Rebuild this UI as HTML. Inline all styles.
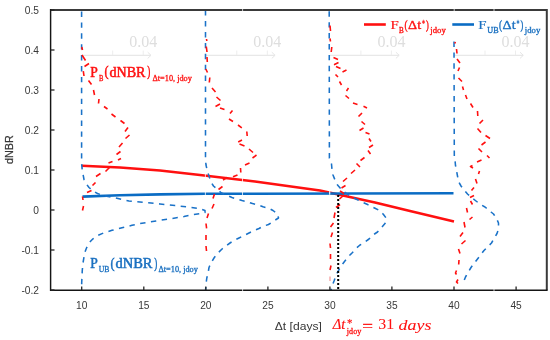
<!DOCTYPE html>
<html><head><meta charset="utf-8"><title>chart</title>
<style>
html,body{margin:0;padding:0;background:#fff;}
body{width:550px;height:340px;overflow:hidden;}
svg{display:block;}
.ax{font-family:"Liberation Sans",Arial,sans-serif;fill:#383838;}
.sf{font-family:"Liberation Serif","Times New Roman",serif;}
</style></head><body>
<svg width="550" height="340" viewBox="0 0 550 340">
<rect width="550" height="340" fill="#fff"/>

<g fill="none"><line x1="81.7" y1="55.3" x2="150.7" y2="55.3" stroke="#e8e8e8" stroke-width="1.3"/><line x1="112.7" y1="50.5" x2="112.7" y2="55" stroke="#ededed" stroke-width="1"/><line x1="143.2" y1="50.5" x2="143.2" y2="55" stroke="#ededed" stroke-width="1"/><polyline points="147.7,52.2 151.0,55.3 147.7,58.4" stroke="#e6e6e6" stroke-width="1"/></g>
<text x="143.2" y="47" text-anchor="middle" class="sf" font-size="16" fill="#dedede">0.04</text>
<g fill="none"><line x1="205.8" y1="55.3" x2="274.8" y2="55.3" stroke="#e8e8e8" stroke-width="1.3"/><line x1="236.8" y1="50.5" x2="236.8" y2="55" stroke="#ededed" stroke-width="1"/><line x1="267.3" y1="50.5" x2="267.3" y2="55" stroke="#ededed" stroke-width="1"/><polyline points="271.8,52.2 275.1,55.3 271.8,58.4" stroke="#e6e6e6" stroke-width="1"/></g>
<text x="267.3" y="47" text-anchor="middle" class="sf" font-size="16" fill="#dedede">0.04</text>
<g fill="none"><line x1="329.9" y1="55.3" x2="398.9" y2="55.3" stroke="#e8e8e8" stroke-width="1.3"/><line x1="360.9" y1="50.5" x2="360.9" y2="55" stroke="#ededed" stroke-width="1"/><line x1="391.4" y1="50.5" x2="391.4" y2="55" stroke="#ededed" stroke-width="1"/><polyline points="395.9,52.2 399.2,55.3 395.9,58.4" stroke="#e6e6e6" stroke-width="1"/></g>
<text x="391.4" y="47" text-anchor="middle" class="sf" font-size="16" fill="#dedede">0.04</text>
<g fill="none"><line x1="454.0" y1="55.3" x2="523.0" y2="55.3" stroke="#e8e8e8" stroke-width="1.3"/><line x1="485.0" y1="50.5" x2="485.0" y2="55" stroke="#ededed" stroke-width="1"/><line x1="515.5" y1="50.5" x2="515.5" y2="55" stroke="#ededed" stroke-width="1"/><polyline points="520.0,52.2 523.3,55.3 520.0,58.4" stroke="#e6e6e6" stroke-width="1"/></g>
<text x="515.5" y="47" text-anchor="middle" class="sf" font-size="16" fill="#dedede">0.04</text>
<polyline points="82,165.8 120,167.5 160,170.4 200,175 255,181.5 320,190.5 375,202.5 410,211 454,221.5" fill="none" stroke="#ff1010" stroke-width="2.5" stroke-linejoin="round" stroke-linecap="butt"/>
<polyline points="82.5,196.6 120,195.3 160,194.4 205,193.8 453.5,193.3" fill="none" stroke="#0a6cc4" stroke-width="2.6" stroke-linejoin="round" stroke-linecap="butt"/>
<line x1="205.4" y1="173.5" x2="205.4" y2="177.5" stroke="#fff" stroke-width="0.9" opacity="0.85"/>
<line x1="205.4" y1="191.5" x2="205.4" y2="196" stroke="#fff" stroke-width="0.9" opacity="0.85"/>
<line x1="242.5" y1="178.0" x2="242.5" y2="182.0" stroke="#fff" stroke-width="0.9" opacity="0.85"/>
<line x1="242.5" y1="191.5" x2="242.5" y2="196" stroke="#fff" stroke-width="0.9" opacity="0.85"/>
<line x1="329.7" y1="190.0" x2="329.7" y2="194.0" stroke="#fff" stroke-width="0.9" opacity="0.85"/>
<line x1="329.7" y1="191.5" x2="329.7" y2="196" stroke="#fff" stroke-width="0.9" opacity="0.85"/>
<polyline points="81.6,10 81.6,163 82,168 83,174 84,179.5 86,183.5 89,187.5 93,191 97.5,193.5 103,195.5 108,196.6 113,197.5 118,198.5 124,200 129,201 140,202 151,203 160,204 175,205.6 189.4,207.2 199.5,208.5 205,210.5 205,212.5 200.5,213.5 191,215 184,216.6 170,218.8 156,221 140,223.5 132,225.3 122,227.8 112,230.3 104,232.8 98,235.3 93,238.8 89,243 86.5,248 85,252 84,257 83,263 82.3,270 82,276 81.7,283 81.6,290" fill="none" stroke="#1a72c8" stroke-width="1.55" stroke-dasharray="5.4 5.5" stroke-dashoffset="9.4" stroke-linejoin="round"/>
<polyline points="205.5,10 205.5,160 206,165 207.5,171.5 209,176 211,182 213.5,186 218,190 221.5,193 227,195.2 232,197.5 237,199 242,200.5 248,202 252.5,203.6 258.5,205 263,206.8 269,208.3 273,210.5 277.5,214 278.5,218 273,221.5 268.5,224.5 262.5,226.5 259,228.5 251,232 244,235.5 239,238 234,240.5 230,243 224.5,247 221.5,249.5 217,254 214,258 211,263 209,267.5 208,273.5 206.8,278 206,284 205.6,290" fill="none" stroke="#1a72c8" stroke-width="1.55" stroke-dasharray="5.4 5.5" stroke-dashoffset="10.7" stroke-linejoin="round"/>
<polyline points="329.2,10 329.4,158 331.5,164 332,169.5 333,175 335,180 337.5,185 341,189 345,192.5 350,196 354,198 358,200 362,202 367,204.2 370,206 374.5,208 379.5,210.5 383.5,214.5 386.5,218.5 385,223.5 381.5,227.5 377.5,232 374.5,234 369,239 365.5,241.5 360,245 356.5,248 352.5,252.5 348.5,256.5 344.5,261.5 341.5,265.5 338.5,270.5 336.3,274.5 334.3,280.3 332.5,285 331,290" fill="none" stroke="#1a72c8" stroke-width="1.55" stroke-dasharray="5.4 5.5" stroke-dashoffset="9.6" stroke-linejoin="round"/>
<polyline points="454,41.5 454.3,156 455,160 455.5,165.5 456.5,170.5 457.5,176 458.5,181.5 461,186 464.5,190.5 467.5,194 472,198 476,201 480.5,204.5 485,207 489,210 491,212 493.5,214 496.5,218.5 498.5,223 498.5,229 497,233.5 494,238.5 491.5,243 487.5,247 484,250.5 480.5,255 477.5,259 474,263.5 471,267.5 468,272.5 465.5,277 463.5,282" fill="none" stroke="#1a72c8" stroke-width="1.55" stroke-dasharray="5.4 5.5" stroke-dashoffset="0" stroke-linejoin="round"/>
<path d="M81.8,47 L82.5,50 M82,55 L85.5,60.5 M89,63.5 L84.5,66.5 M83.3,71.2 L84,76 M88.5,80.5 L91.5,84.5 M93.5,90 L94.5,95 M99,99 L98.5,103.5 M104,106.5 L107.5,109 M111.5,114 L115.5,117 M120.5,120.5 L124.5,123.5 M128,127.5 L125,131.5 M129.5,135 L125.5,138.5 M122.5,143 L119,147 M120.5,151.5 L116.5,154.5 M121,158.5 L118,160 M112.5,161.5 L108.5,163 M109.5,167.5 L105.5,171.5 M100.5,173.5 L96,176.5 M95.5,182.5 L92.5,185.5 M91.5,190.5 L87,192.5 M82.5,196.5 L83,200 M83.5,206 L82.5,210.5 M206.5,39 L206.8,41 M206.3,46.5 L207,52 M207,57 L207.3,62 M205.8,69 L207.5,72.5 M209.8,77.5 L209.3,82.5 M212,88 L215.5,92 M216.5,97 L220.5,100.5 M220,104 L215.5,106.5 M220,108 L224.5,109.5 M232.5,110.5 L230,113.5 M229,119 L233,121.5 M238,125 L241.8,127.8 M246.8,131.5 L247.2,136 M242,140 L238.2,142 M239.5,144 L244.5,146 M249,149 L253,152.5 M256.5,155 L252.5,158 M249.5,163 L245,165 M240.5,168 L240.8,172.5 M237.5,175 L233,176.8 M227,177.5 L223,180 M222.5,186.5 L218.5,189.5 M214.5,194 L213,198.5 M214,204 L212,208.5 M208.5,213.5 L207,218 M206,223.5 L206.6,228.3 M206,235 L206,240 M206,246 L206.5,251 M330,25.5 L330.5,31 M330,38.5 L330.5,41.5 M331.8,47 L331.2,52 M333.5,57.5 L338,59.5 M338.5,62.5 L334,64.8 M336,66.5 L340.5,68.5 M346.5,70 L342.5,72 M335.5,74.5 L338,77 M339.5,81.5 L341.5,85 M348.5,88 L346.5,91 M345.5,95.5 L349,98.5 M353,103 L357.5,104.5 M363.5,106.3 L367,108 M362,113 L358.5,116.5 M361.5,121.5 L365,124.5 M363.5,128 L359.5,130.5 M365.5,132.5 L369.5,134 M369,138.5 L371,141.5 M373,145 L369,147.5 M368,150.5 L370.5,154 M364.5,157.5 L360.5,160.5 M356.5,163.5 L360,167 M355,170 L351,173.5 M347,178 L343,181.5 M345.5,185.5 L341.5,188 M340,191 L344,193.5 M344,195 L339.5,199 M340,204.5 L336,207.5 M335,212.5 L334,218 M333.5,223 L330.5,227 M332.5,232.5 L331,237 M330,243.5 L330.5,248 M330.5,254 L330.5,259 M331,265.5 L330,270 M455,42 L455.3,43.5 M456.5,49 L457,53.5 M457,59 L460,63 M459.5,67.5 L458,71 M458.5,78 L462,81.5 M462.5,86.5 L463.5,90 M465.5,95 L467,99 M470.5,103.5 L473,107.5 M477.5,111 L477.8,116 M483,120 L479.5,123.5 M477.5,128.5 L481,132.5 M485.5,135.5 L490,138.5 M485.5,142 L481.5,145 M478.5,148.5 L482,152 M487,155.5 L489.5,158 M481.5,160 L477,162 M472.5,165.5 L470.5,166.5 L473,168 M479.5,171 L478.5,174 M475.5,179 L477,183.5 M474,187.5 L471.5,190.5 M474,195.5 L470,197.5 M470.5,201 L472.5,204.5 M466.5,208 L467.5,212.5 M472.5,217 L469.5,219.5 M464,222 L465,227.5 M463,232.5 L460,236.5 M465.5,240.5 L461.5,244 M458.5,249 L460,253.5 M459,260 L458.7,264.5 M456.5,270.5 L455.5,273 L456.5,274.5 M458,279.5 L456.5,282 L458,283.5" fill="none" stroke="#ff1010" stroke-width="1.6" stroke-linecap="butt" stroke-linejoin="round"/>
<path d="M330.0,276.5 L330.0,281.0" stroke="#f7b0b0" stroke-width="1.6"/>
<line x1="338.2" y1="195" x2="338.2" y2="289" stroke="#000" stroke-width="2" stroke-dasharray="2 2"/>
<path d="M50.6,9.9 H546.8 V290.2" fill="none" stroke="#3a3a3a" stroke-width="2" stroke-linejoin="miter"/>
<path d="M50.6,9 V290.2 H547.6" fill="none" stroke="#151515" stroke-width="1.45" stroke-linejoin="miter"/>
<line x1="242.6" y1="8" x2="242.6" y2="12" stroke="#fff" stroke-width="0.9" opacity="0.8"/>
<line x1="242.6" y1="288.5" x2="242.6" y2="292" stroke="#fff" stroke-width="0.9" opacity="0.8"/>
<line x1="494" y1="8" x2="494" y2="12" stroke="#fff" stroke-width="0.9" opacity="0.8"/>
<line x1="494" y1="288.5" x2="494" y2="292" stroke="#fff" stroke-width="0.9" opacity="0.8"/>
<line x1="454.2" y1="8" x2="454.2" y2="12" stroke="#fff" stroke-width="0.9" opacity="0.8"/>
<line x1="50.6" y1="10" x2="54.5" y2="10" stroke="#262626" stroke-width="1.3"/>
<line x1="50.6" y1="50" x2="54.5" y2="50" stroke="#262626" stroke-width="1.3"/>
<line x1="50.6" y1="90" x2="54.5" y2="90" stroke="#262626" stroke-width="1.3"/>
<line x1="50.6" y1="130" x2="54.5" y2="130" stroke="#262626" stroke-width="1.3"/>
<line x1="50.6" y1="170" x2="54.5" y2="170" stroke="#262626" stroke-width="1.3"/>
<line x1="50.6" y1="210" x2="54.5" y2="210" stroke="#262626" stroke-width="1.3"/>
<line x1="50.6" y1="250" x2="54.5" y2="250" stroke="#262626" stroke-width="1.3"/>
<line x1="50.6" y1="290" x2="54.5" y2="290" stroke="#262626" stroke-width="1.3"/>
<line x1="81.7" y1="290" x2="81.7" y2="286.5" stroke="#262626" stroke-width="1.3"/>
<line x1="143.8" y1="290" x2="143.8" y2="286.5" stroke="#262626" stroke-width="1.3"/>
<line x1="205.8" y1="290" x2="205.8" y2="286.5" stroke="#262626" stroke-width="1.3"/>
<line x1="267.9" y1="290" x2="267.9" y2="286.5" stroke="#262626" stroke-width="1.3"/>
<line x1="329.9" y1="290" x2="329.9" y2="286.5" stroke="#262626" stroke-width="1.3"/>
<line x1="391.9" y1="290" x2="391.9" y2="286.5" stroke="#262626" stroke-width="1.3"/>
<line x1="454.0" y1="290" x2="454.0" y2="286.5" stroke="#262626" stroke-width="1.3"/>
<line x1="516.1" y1="290" x2="516.1" y2="286.5" stroke="#262626" stroke-width="1.3"/>
<text x="39" y="13.6" text-anchor="end" class="ax" font-size="10.2">0.5</text>
<text x="39" y="53.6" text-anchor="end" class="ax" font-size="10.2">0.4</text>
<text x="39" y="93.6" text-anchor="end" class="ax" font-size="10.2">0.3</text>
<text x="39" y="133.6" text-anchor="end" class="ax" font-size="10.2">0.2</text>
<text x="39" y="173.6" text-anchor="end" class="ax" font-size="10.2">0.1</text>
<text x="39" y="213.6" text-anchor="end" class="ax" font-size="10.2">0</text>
<text x="39" y="253.6" text-anchor="end" class="ax" font-size="10.2">-0.1</text>
<text x="39" y="293.6" text-anchor="end" class="ax" font-size="10.2">-0.2</text>
<text x="81.7" y="309.3" text-anchor="middle" class="ax" font-size="10.2">10</text>
<text x="143.8" y="309.3" text-anchor="middle" class="ax" font-size="10.2">15</text>
<text x="205.8" y="309.3" text-anchor="middle" class="ax" font-size="10.2">20</text>
<text x="267.9" y="309.3" text-anchor="middle" class="ax" font-size="10.2">25</text>
<text x="329.9" y="309.3" text-anchor="middle" class="ax" font-size="10.2">30</text>
<text x="391.9" y="309.3" text-anchor="middle" class="ax" font-size="10.2">35</text>
<text x="454.0" y="309.3" text-anchor="middle" class="ax" font-size="10.2">40</text>
<text x="516.1" y="309.3" text-anchor="middle" class="ax" font-size="10.2">45</text>
<text transform="translate(12.7,149.6) rotate(-90)" text-anchor="middle" class="ax" font-size="10.8" stroke="#383838" stroke-width="0.25">dNBR</text>
<text x="274.79" y="329.93" class="ax" font-size="11.16" fill="#383838" textLength="47.12" lengthAdjust="spacingAndGlyphs">Δt [days]</text>
<line x1="364" y1="24.5" x2="385.8" y2="24.5" stroke="#ff1010" stroke-width="2.6"/>
<line x1="452.3" y1="24.5" x2="474" y2="24.5" stroke="#0a6cc4" stroke-width="2.6"/>
<text x="390.49" y="28.9" class="sf" font-size="12.0" fill="#ff1010" stroke="#ff1010" stroke-width="0.15" textLength="8.32" lengthAdjust="spacingAndGlyphs">F</text>
<text x="398.92" y="33.4" class="sf" font-size="7.8" fill="#ff1010" stroke="#ff1010" stroke-width="0.35" textLength="4.81" lengthAdjust="spacingAndGlyphs">B</text>
<text x="404.57" y="29.34" class="sf" font-size="13.07" fill="#ff1010" stroke="#ff1010" stroke-width="0.45" textLength="3.05" lengthAdjust="spacingAndGlyphs">(</text>
<text x="408.07" y="28.9" class="sf" font-size="11.6" fill="#ff1010" stroke="#ff1010" stroke-width="0.31" textLength="13.01" lengthAdjust="spacingAndGlyphs">Δt</text>
<text x="421.91" y="27.2" class="sf" font-size="11" fill="#ff1010" stroke="#ff1010" stroke-width="0.30" textLength="2.98" lengthAdjust="spacingAndGlyphs">*</text>
<text x="426.11" y="29.34" class="sf" font-size="13.07" fill="#ff1010" stroke="#ff1010" stroke-width="0.45" textLength="2.79" lengthAdjust="spacingAndGlyphs">)</text>
<text x="430.35" y="32.9" class="sf" font-size="8.2" fill="#ff1010" stroke="#ff1010" stroke-width="0.30" textLength="15.48" lengthAdjust="spacingAndGlyphs">jdoy</text>
<text x="478.19" y="28.9" class="sf" font-size="12.0" fill="#1a70c0" stroke="#1a70c0" stroke-width="0.15" textLength="8.32" lengthAdjust="spacingAndGlyphs">F</text>
<text x="487.25" y="33.4" class="sf" font-size="7.8" fill="#1a70c0" stroke="#1a70c0" stroke-width="0.35" textLength="11.32" lengthAdjust="spacingAndGlyphs">UB</text>
<text x="499.07" y="29.34" class="sf" font-size="13.07" fill="#1a70c0" stroke="#1a70c0" stroke-width="0.45" textLength="3.05" lengthAdjust="spacingAndGlyphs">(</text>
<text x="502.57" y="28.9" class="sf" font-size="11.6" fill="#1a70c0" stroke="#1a70c0" stroke-width="0.31" textLength="13.01" lengthAdjust="spacingAndGlyphs">Δt</text>
<text x="516.41" y="27.2" class="sf" font-size="11" fill="#1a70c0" stroke="#1a70c0" stroke-width="0.30" textLength="2.98" lengthAdjust="spacingAndGlyphs">*</text>
<text x="520.61" y="29.34" class="sf" font-size="13.07" fill="#1a70c0" stroke="#1a70c0" stroke-width="0.45" textLength="2.79" lengthAdjust="spacingAndGlyphs">)</text>
<text x="524.85" y="32.9" class="sf" font-size="8.2" fill="#1a70c0" stroke="#1a70c0" stroke-width="0.30" textLength="15.48" lengthAdjust="spacingAndGlyphs">jdoy</text>
<text x="90.31" y="76.5" class="sf" font-size="13.8" fill="#ff1010" stroke="#ff1010" stroke-width="0.50" textLength="7.53" lengthAdjust="spacingAndGlyphs">P</text>
<text x="99.11" y="80.9" class="sf" font-size="7.4" fill="#ff1010" stroke="#ff1010" stroke-width="0.30" textLength="4.41" lengthAdjust="spacingAndGlyphs">B</text>
<text x="104.54" y="76.43" class="sf" font-size="13.62" fill="#ff1010" stroke="#ff1010" stroke-width="0.45" textLength="4.08" lengthAdjust="spacingAndGlyphs">(</text>
<text x="109.49" y="76.5" class="sf" font-size="13.8" fill="#ff1010" stroke="#ff1010" stroke-width="0.50" textLength="36.03" lengthAdjust="spacingAndGlyphs">dNBR</text>
<text x="147.28" y="76.43" class="sf" font-size="13.62" fill="#ff1010" stroke="#ff1010" stroke-width="0.45" textLength="3.05" lengthAdjust="spacingAndGlyphs">)</text>
<text x="152.49" y="80.6" class="sf" font-size="7.8" fill="#ff1010" stroke="#ff1010" stroke-width="0.30" textLength="39.35" lengthAdjust="spacingAndGlyphs">Δt=10, jdoy</text>
<text x="90.31" y="267.8" class="sf" font-size="13.8" fill="#1a70c0" stroke="#1a70c0" stroke-width="0.50" textLength="7.53" lengthAdjust="spacingAndGlyphs">P</text>
<text x="98.74" y="272.2" class="sf" font-size="7.4" fill="#1a70c0" stroke="#1a70c0" stroke-width="0.30" textLength="10.74" lengthAdjust="spacingAndGlyphs">UB</text>
<text x="110.54" y="267.73" class="sf" font-size="13.62" fill="#1a70c0" stroke="#1a70c0" stroke-width="0.45" textLength="4.08" lengthAdjust="spacingAndGlyphs">(</text>
<text x="115.48" y="267.8" class="sf" font-size="13.8" fill="#1a70c0" stroke="#1a70c0" stroke-width="0.50" textLength="37.04" lengthAdjust="spacingAndGlyphs">dNBR</text>
<text x="154.18" y="267.73" class="sf" font-size="13.62" fill="#1a70c0" stroke="#1a70c0" stroke-width="0.45" textLength="3.05" lengthAdjust="spacingAndGlyphs">)</text>
<text x="158.49" y="271.9" class="sf" font-size="7.8" fill="#1a70c0" stroke="#1a70c0" stroke-width="0.30" textLength="39.35" lengthAdjust="spacingAndGlyphs">Δt=10, jdoy</text>
<text x="332.71" y="329.3" class="sf" font-size="13.96" fill="#ff1010" font-style="italic" stroke="#ff1010" stroke-width="0.15" textLength="12.58" lengthAdjust="spacingAndGlyphs">Δt</text>
<text x="347.1" y="327.4" class="sf" font-size="12.5" fill="#ff1010" stroke="#ff1010" stroke-width="0.15" textLength="5.39" lengthAdjust="spacingAndGlyphs">*</text>
<text x="346.83" y="334.0" class="sf" font-size="8.6" fill="#ff1010" stroke="#ff1010" stroke-width="0.30" textLength="14.4" lengthAdjust="spacingAndGlyphs">jdoy</text>
<text x="362.56" y="330.63" class="sf" font-size="14.5" fill="#ff1010" stroke="#ff1010" stroke-width="0.45" textLength="10.36" lengthAdjust="spacingAndGlyphs">=</text>
<text x="378.22" y="329.3" class="sf" font-size="13.77" fill="#ff1010" stroke="#ff1010" stroke-width="0.05" textLength="15.86" lengthAdjust="spacingAndGlyphs">31</text>
<text x="398.63" y="329.59" class="sf" font-size="15.01" fill="#ff1010" font-style="italic" stroke="#ff1010" stroke-width="0.05" textLength="32.73" lengthAdjust="spacingAndGlyphs">days</text>
</svg>
</body></html>
